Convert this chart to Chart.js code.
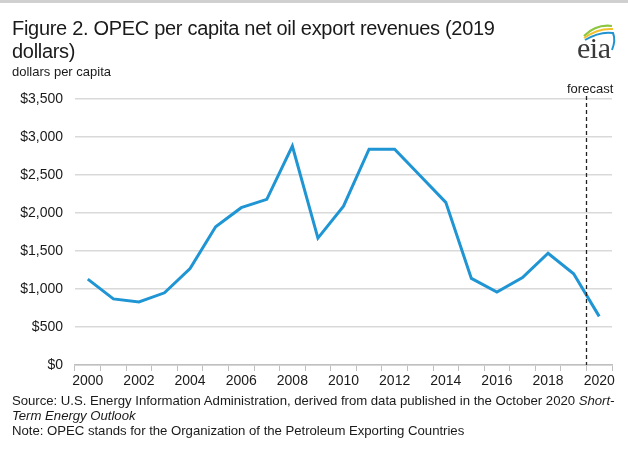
<!DOCTYPE html>
<html>
<head>
<meta charset="utf-8">
<script src="https://cdn.jsdelivr.net/npm/chart.js@4/dist/chart.umd.min.js"></script>
<style>
  html, body { margin: 0; padding: 0; background: #fff; }
  #wrap { position: relative; width: 628px; height: 460px; overflow: hidden; font-family: "Liberation Sans", Arial, sans-serif; color: #1a1a1a; }
  #topbar { position: absolute; left: 0; top: 0; width: 628px; height: 3px; background: #d0d0d0; }
  canvas { position: absolute; left: 0; top: 0; }
  .t { position: absolute; white-space: nowrap; }
  #title { left: 12px; top: 17px; font-size: 20px; line-height: 23px; letter-spacing: -0.3px; }
  #unit { left: 12px; top: 64px; font-size: 13px; }
  #forecast { left: 567px; top: 81px; font-size: 13px; }
  #src { left: 12px; top: 393px; font-size: 13.2px; line-height: 15px; letter-spacing: -0.03px; }
  #logo { position: absolute; left: 572px; top: 16px; width: 46px; height: 50px; }
  #logotext { position: absolute; left: 577px; top: 31px; font-family: "Liberation Serif", "DejaVu Serif", serif; font-size: 30px; color: #3a3a3a; letter-spacing: -0.5px; }
</style>
</head>
<body>
<div id="wrap">
  <div id="topbar"></div>
  <canvas id="c" width="628" height="460"></canvas>
  <div class="t" id="title">Figure 2. OPEC per capita net oil export revenues (2019<br>dollars)</div>
  <div class="t" id="unit">dollars per capita</div>
  <div class="t" id="forecast">forecast</div>
  <svg id="logo" viewBox="0 0 46 50">
    <path d="M12 20 Q24 8 40 10" stroke="#8dc63f" stroke-width="2.2" fill="none"/>
    <path d="M12 22 Q26 12 41 13" stroke="#f2c12e" stroke-width="2" fill="none"/>
    <path d="M13 24 Q28 15 41 17 Q44 24 40 34" stroke="#1f93d2" stroke-width="2" fill="none"/>
  </svg>
  <div class="t" id="logotext">eia</div>
  <div class="t" id="src">Source: U.S. Energy Information Administration, derived from data published in the October 2020 <i>Short-</i><br><i>Term Energy Outlook</i><br>Note: OPEC stands for the Organization of the Petroleum Exporting Countries</div>
</div>
<script>
const years = ['2000','2001','2002','2003','2004','2005','2006','2007','2008','2009','2010','2011','2012','2013','2014','2015','2016','2017','2018','2019','2020'];
const revenuePerCapita = [1130, 870, 830, 950, 1270, 1820, 2070, 2180, 2880, 1670, 2090, 2840, 2840, 2490, 2140, 1140, 960, 1150, 1470, 1200, 640];
const yTicks = [0, 500, 1000, 1500, 2000, 2500, 3000, 3500];
const forecastStartIndex = 20;

const forecastLine = {
  id: 'forecastLine',
  afterDatasetsDraw(chart) {
    const xs = chart.scales.x;
    const ca = chart.chartArea;
    const x = Math.round((xs.getPixelForValue(forecastStartIndex - 1) + xs.getPixelForValue(forecastStartIndex)) / 2) + 0.5;
    const ctx = chart.ctx;
    ctx.save();
    ctx.strokeStyle = '#222';
    ctx.lineWidth = 1.3;
    ctx.setLineDash([4, 3]);
    ctx.beginPath();
    ctx.moveTo(x, ca.top - 3);
    ctx.lineTo(x, ca.bottom);
    ctx.stroke();
    ctx.restore();
  }
};

new Chart(document.getElementById('c'), {
  type: 'line',
  data: {
    labels: years,
    datasets: [{
      data: revenuePerCapita,
      borderColor: '#1f95d4',
      borderWidth: 3,
      pointRadius: 0,
      tension: 0,
      fill: false
    }]
  },
  options: {
    responsive: false,
    animation: false,
    layout: { padding: { left: 0, right: 16, top: 99, bottom: 65 } },
    plugins: { legend: { display: false }, tooltip: { enabled: false } },
    scales: {
      x: {
        offset: true,
        afterFit(s) { s.height = 30; },
        grid: { offset: true, drawOnChartArea: false, drawTicks: true, tickLength: 6, color: '#bfbfbf', lineWidth: 1 },
        border: { color: '#bfbfbf', width: 1.5 },
        ticks: {
          autoSkip: false, maxRotation: 0, padding: 2,
          color: '#1a1a1a',
          font: { family: '"Liberation Sans", Arial, sans-serif', size: 14 },
          callback: (v, i) => (i % 2 === 0 ? years[i] : '')
        }
      },
      y: {
        min: 0, max: 3500,
        afterFit(s) { s.width = 75; },
        afterBuildTicks(s) { s.ticks = yTicks.map(v => ({ value: v })); },
        grid: { color: '#d9d9d9', lineWidth: 1.5, drawTicks: false },
        border: { display: false },
        ticks: {
          padding: 12,
          color: '#1a1a1a',
          font: { family: '"Liberation Sans", Arial, sans-serif', size: 14 },
          callback: v => '$' + v.toLocaleString('en-US')
        }
      }
    }
  },
  plugins: [forecastLine]
});
</script>
</body>
</html>
